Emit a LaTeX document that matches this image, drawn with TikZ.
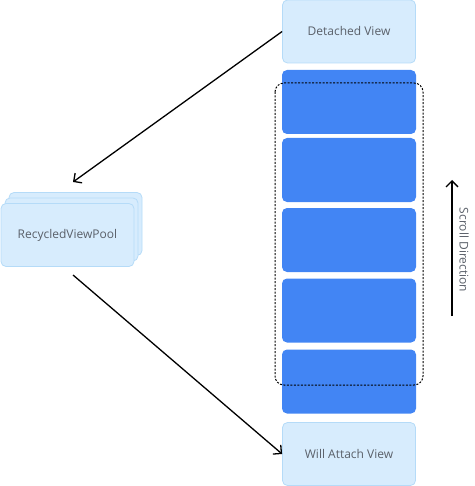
\documentclass[tikz,border=0pt]{standalone}
\usepackage{fontspec}
\setmainfont{Open Sans}
\usetikzlibrary{arrows.meta}
\definecolor{viewblue}{HTML}{4285F4}
\definecolor{paleblue}{HTML}{D7ECFD}
\definecolor{paleedge}{HTML}{B5DBF8}
\definecolor{labelgray}{HTML}{5A6069}
\begin{document}
\begin{tikzpicture}[x=1pt,y=-1pt,
  item/.style={fill=viewblue,rounded corners=5pt,minimum width=134pt,minimum height=64pt,inner sep=0pt},
  holder/.style={fill=paleblue,draw=paleedge,line width=0.8pt,rounded corners=5pt,minimum width=133pt,minimum height=63pt,inner sep=0pt,font=\fontsize{12}{14}\selectfont,text=labelgray},
  flow/.style={line width=1.3pt,-{Straight Barb[length=6pt,width=12pt]}}]
\useasboundingbox (0,0) rectangle (474,486);
%views
\node[holder] (detached) at (349,31.5) {Detached View};
\foreach \y/\n in {102/a,170/b,240/c,310.5/d,381.5/e}{\node[item] (view\n) at (349,\y) {};}
\node[holder] (attach) at (349,454) {Will Attach View};
%visible window
\draw[dash pattern=on 2pt off 1.5pt,line width=1pt,rounded corners=9pt] (275,83) rectangle (423,385);
%pool
\node[holder] (poolc) at (75.5,224) {};
\node[holder] (poolb) at (71.5,229.5) {};
\node[holder] (pool) at (67.5,235) {RecycledViewPool};
%arrows
\coordinate (poolin) at (73,182);
\coordinate (poolout) at (73,275);
\draw[flow] (detached.west) -- (poolin);
\draw[flow] (poolout) -- (attach.west);
\coordinate (scrolla) at (452,316);
\coordinate (scrollb) at (452,180);
\draw[flow] (scrolla) -- (scrollb);
\node[rotate=-90,text=labelgray,font=\fontsize{12}{14}\selectfont] (scroll) at (464,250) {Scroll Direction};
\end{tikzpicture}
\end{document}
